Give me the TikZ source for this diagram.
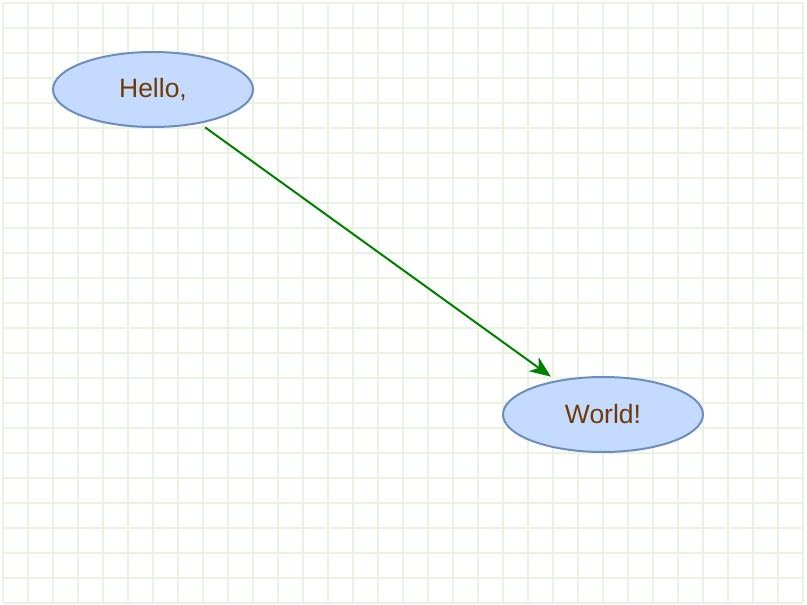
\documentclass[tikz,border=0pt]{standalone}
\usepackage{fontspec}
\setmainfont{Liberation Sans}
\usetikzlibrary{arrows.meta}
\usetikzlibrary{shapes.geometric}

\definecolor{gridgreen}{RGB}{234,242,226}
\definecolor{bubblefill}{RGB}{196,218,255}
\definecolor{bubbleline}{RGB}{108,142,191}
\definecolor{wordbrown}{RGB}{112,58,0}
\definecolor{arrowgreen}{RGB}{0,128,0}

\tikzset{bubble/.style={ellipse, draw=bubbleline, fill=bubblefill, line width=2pt,
  minimum width=200pt, minimum height=75pt, outer sep=6pt, text=wordbrown,
  font=\fontsize{26.5}{30}\selectfont}}

\begin{document}
\begin{tikzpicture} [x=1pt, y=-1pt]

\useasboundingbox (0,0) rectangle (807,605);
\fill[white] (0,0) rectangle (807,605);

\foreach \x in {0,...,32}
 \draw[gridgreen, line width=2pt] (3+25*\x,3)--(3+25*\x,603);
\foreach \y in {0,...,24}
 \draw[gridgreen, line width=2pt] (3,3+25*\y)--(803,3+25*\y);

\node[bubble] (hello) at (153,89.5) {\raisebox{-1.5pt}{Hello,}};
\node[bubble] (world) at (603,414.5) {\raisebox{-1.5pt}{World!}};

\draw[arrowgreen, line width=2pt, -{Stealth[length=21pt, width=17pt, inset=6pt]}] (hello.-36)--(world.144.6);

\end{tikzpicture}
\end{document}
